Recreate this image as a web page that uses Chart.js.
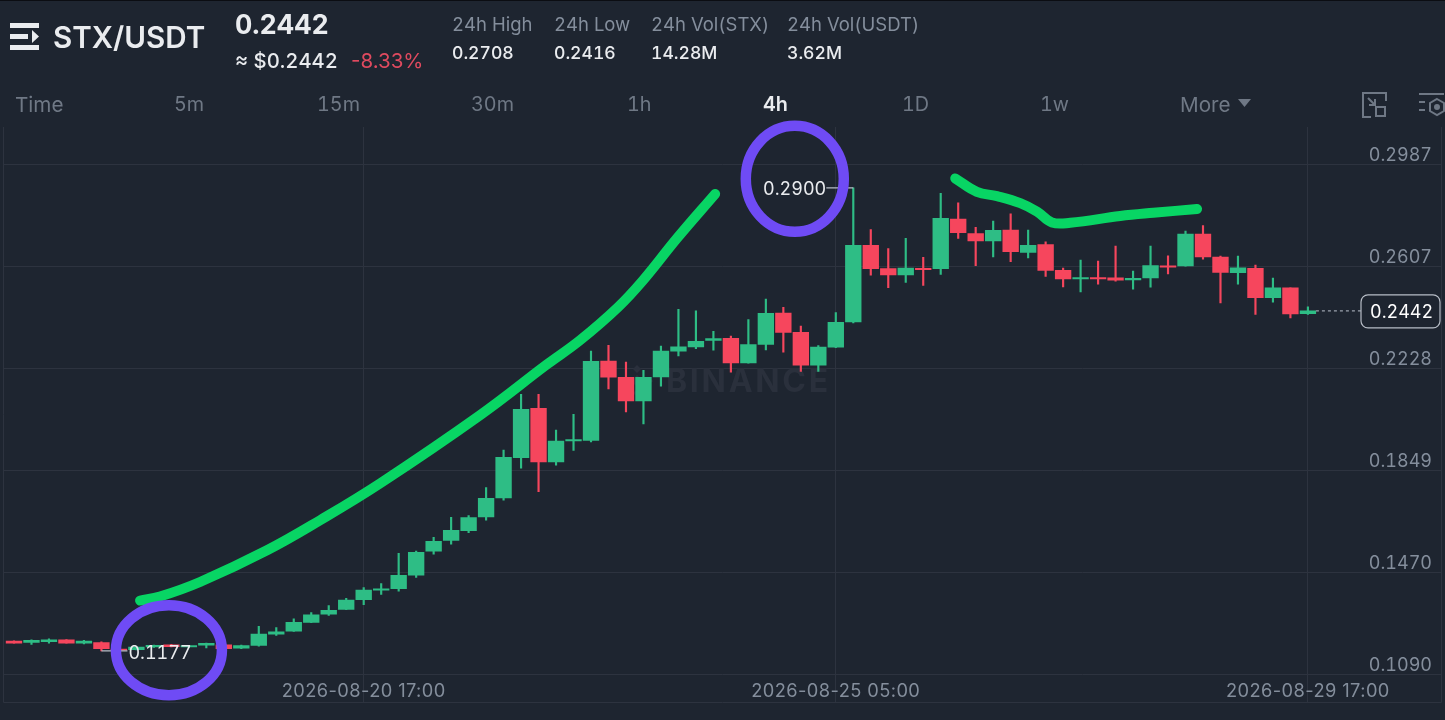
<!DOCTYPE html>
<html>
<head>
<meta charset="utf-8">
<script src="https://cdn.jsdelivr.net/npm/chart.js"></script>
<style>
    html, body { margin: 0; padding: 0; background: #1e2530; overflow: hidden; }
    body { width: 1445px; height: 720px; position: relative; font-family: Inter, sans-serif; color: #eaecef; font-variant-numeric: tabular-nums; }
    #topLine { position: absolute; left: 0; top: 0; width: 1445px; height: 1px; background: #0b0d12; }
    #kline { position: absolute; left: 0; top: 0; }
    .t { position: absolute; white-space: nowrap; line-height: 1; transform: translateY(-50%); }
    .tab { font-size: 19.8px; color: #6f7885; top: 105px; }
    .word { font-size: 20.7px; }
    .label { font-size: 18.5px; color: #848e9c; top: 23.5px; }
    .val { font-size: 17.6px; font-weight: 500; color: #eaecef; top: 52.5px; }
    .axis { position: absolute; white-space: nowrap; line-height: 1; font-size: 18px; color: #848e9c; }
    .time { font-size: 18.3px; letter-spacing: 0.4px; font-variant-numeric: normal; }
    svg { position: absolute; }
</style>
</head>
<body>
<div id="topLine"></div>
<canvas id="kline" width="1445" height="720"></canvas>

<svg style="left:10px;top:22px" width="30" height="30" viewBox="0 0 30 30" fill="#eaecef">
    <rect x="0" y="1" width="29" height="5"/>
    <rect x="0" y="12" width="18" height="5"/>
    <path d="M22 8 L29 14.5 L22 21 Z"/>
    <rect x="0" y="23" width="29" height="5"/>
</svg>
<div class="t" style="left:53px;top:38px;font-size:29.6px;font-weight:600;">STX/USDT</div>
<div class="t" style="left:235px;top:24px;font-size:26.8px;font-weight:700;">0.2442</div>
<div class="t" style="left:235px;top:61px;font-size:20.3px;font-weight:500;">≈ $0.2442</div>
<div class="t" style="left:351px;top:61px;font-size:20.5px;color:#e04a5f;font-variant-numeric:normal;">-8.33%</div>

<div class="t label" style="left:452px">24h High</div>
<div class="t val" style="left:452px">0.2708</div>
<div class="t label" style="left:554px">24h Low</div>
<div class="t val" style="left:554px">0.2416</div>
<div class="t label" style="left:651px">24h Vol(STX)</div>
<div class="t val" style="left:651px">14.28M</div>
<div class="t label" style="left:787px">24h Vol(USDT)</div>
<div class="t val" style="left:787px">3.62M</div>

<div class="t tab word" style="left:15px">Time</div>
<div class="t tab" style="left:174px">5m</div>
<div class="t tab" style="left:317px">15m</div>
<div class="t tab" style="left:471px">30m</div>
<div class="t tab" style="left:627px">1h</div>
<div class="t tab" style="left:763px;color:#eaecef;font-weight:600;">4h</div>
<div class="t tab" style="left:902px">1D</div>
<div class="t tab" style="left:1040px">1w</div>
<div class="t tab word" style="left:1180px">More</div>
<svg style="left:1238px;top:99px" width="13" height="9" viewBox="0 0 13 9" fill="#6f7885"><path d="M0 0 H13 L6.5 8 Z"/></svg>

<svg style="left:1361px;top:92px" width="26" height="26" viewBox="0 0 26 26" fill="none" stroke="#6f7885" stroke-width="2">
    <path d="M10 25 H2 V1 H25 V9"/>
    <rect x="15" y="15" width="9" height="9"/>
    <path d="M7 6 L14 13 M14 7 V13 H8"/>
</svg>
<svg style="left:1418px;top:92px" width="27" height="26" viewBox="0 0 27 26" fill="none" stroke="#6f7885" stroke-width="2">
    <path d="M1 2 H26 M1 10 H7 M1 18 H7"/>
    <path d="M19 7 L26 11 V19 L19 23 L12 19 V11 Z"/>
    <circle cx="19" cy="15" r="2" fill="#6f7885"/>
</svg>

<script>
// 4h candles, index 0 is the oldest, index 74 is 2026-08-29 17:00
const opens = [
    .1213,.1208,.1211,.1218,.1205,.1208,.1183,.1181,.1191,.1199,.1191,.1198,.1199,.1187,.1197,.1239,.1250,.1283,.1313,.1331,
    .1367,.1403,.1408,.1458,.1548,.1588,.1624,.1675,.1746,.1896,.2079,.1880,.1958,.1960,.2255,.2195,.2107,.2196,.2292,.2308,
    .2332,.2340,.2248,.2317,.2434,.2362,.2240,.2307,.2401,.2686,.2599,.2576,.2600,.2599,.2784,.2730,.2702,.2743,.2660,.2689,
    .2593,.2561,.2566,.2565,.2557,.2565,.2610,.2609,.2728,.2642,.2584,.2600,.2491,.2528,.2432];
const closes = [
    .1205,.1216,.1218,.1205,.1213,.1185,.1179,.1191,.1197,.1192,.1196,.1205,.1185,.1196,.1239,.1248,.1283,.1311,.1328,.1366,
    .1403,.1408,.1458,.1543,.1584,.1625,.1673,.1744,.1897,.2076,.1880,.1957,.1963,.2254,.2195,.2107,.2195,.2292,.2308,.2329,
    .2339,.2248,.2317,.2433,.2362,.2240,.2307,.2399,.2686,.2599,.2576,.2601,.2595,.2786,.2733,.2702,.2742,.2662,.2686,.2593,
    .2561,.2566,.2561,.2556,.2563,.2611,.2605,.2728,.2643,.2585,.2602,.2491,.2528,.2431,.2442];
const highs = [
    .1214,.1218,.1222,.1219,.1216,.1210,.1184,.1192,.1198,.1201,.1197,.1206,.1200,.1198,.1268,.1263,.1296,.1319,.1345,.1372,
    .1412,.1427,.1540,.1548,.1599,.1674,.1680,.1784,.1924,.2131,.2131,.1998,.2057,.2292,.2314,.2251,.2221,.2311,.2448,.2442,
    .2366,.2348,.2410,.2486,.2455,.2385,.2313,.2436,.2900,.2745,.2674,.2712,.2641,.2879,.2844,.2753,.2776,.2803,.2743,.2699,
    .2601,.2631,.2627,.2683,.2590,.2683,.2647,.2739,.2759,.2646,.2646,.2612,.2564,.2528,.2457];
const lows = [
    .1205,.1201,.1205,.1205,.1203,.1177,.1178,.1180,.1190,.1191,.1190,.1188,.1184,.1185,.1194,.1234,.1249,.1282,.1309,.1330,
    .1349,.1387,.1399,.1450,.1537,.1574,.1617,.1663,.1738,.1857,.1769,.1868,.1923,.1954,.2152,.2066,.2021,.2162,.2274,.2301,
    .2296,.2214,.2247,.2297,.2288,.2217,.2217,.2305,.2397,.2575,.2528,.2548,.2537,.2578,.2712,.2610,.2643,.2625,.2639,.2570,
    .2531,.2513,.2541,.2553,.2523,.2530,.2580,.2608,.2634,.2472,.2541,.2429,.2474,.2416,.2429];

const yTicks = [0.1090, 0.1470, 0.1849, 0.2228, 0.2607, 0.2987];
const xTickIndex = [20, 47, 74];
const xTickLabels = ["2026-08-20 17:00", "2026-08-25 05:00", "2026-08-29 17:00"];

// hand drawn green strokes on the picture, in candle index / price
const riseStrokeX = [7.21,8.35,10.64,14.47,17.51,20.94,26.66,30.49,32.38,34.55,35.98,37.93,40.10];
const riseStrokeY = [.1364,.1379,.1433,.1551,.1663,.1800,.2054,.2243,.2333,.2456,.2556,.2713,.2877];
const flatStrokeX = [53.83,55.07,56.22,57.55,58.52,59.36,60.41,63.27,65.16,67.66];
const flatStrokeY = [.2935,.2885,.2869,.2843,.2811,.2771,.2770,.2795,.2807,.2821];

const UP = "#2ebd85";
const DOWN = "#f6465d";
const GRID = "#2d333f";
const FONT = "Inter, sans-serif";

const candleColors = opens.map((o, i) => closes[i] >= o ? UP : DOWN);
const lastIndex = opens.length - 1;
const lowIndex = lows.indexOf(Math.min(...lows));
const highIndex = highs.indexOf(Math.max(...highs));

function zip(xs, ys) {
    return xs.map((x, i) => ({ x: x, y: ys[i] }));
}

// === WATERMARK + AXIS FRAME ===
const backdropPlugin = {
    id: "backdrop",
    beforeDatasetsDraw(chart) {
        const c = chart.ctx, a = chart.chartArea;
        c.save();
        c.strokeStyle = GRID;
        c.lineWidth = 1;
        c.beginPath();
        c.moveTo(a.left, a.top);
        c.lineTo(a.left, a.bottom);
        c.lineTo(a.right, a.bottom);
        c.lineTo(a.right, a.top);
        c.stroke();

        c.fillStyle = "#2a303c";
        c.font = "700 32px " + FONT;
        c.textAlign = "left";
        c.textBaseline = "middle";
        c.letterSpacing = "2.7px";
        c.fillText("BINANCE", 666, 382);
        c.letterSpacing = "0px";
        // logo, mostly hidden behind the candles
        [[637, 381, 6], [625, 381, 4], [649, 381, 4], [637, 369, 4], [637, 393, 4]].forEach(d => {
            c.beginPath();
            c.moveTo(d[0], d[1] - d[2]);
            c.lineTo(d[0] + d[2], d[1]);
            c.lineTo(d[0], d[1] + d[2]);
            c.lineTo(d[0] - d[2], d[1]);
            c.fill();
        });
        c.restore();
    }
};

// === HIGH / LOW LEADERS, LAST PRICE TAG, PURPLE CIRCLES ===
const overlayPlugin = {
    id: "overlay",
    afterDatasetsDraw(chart) {
        const c = chart.ctx;
        const x = chart.scales.x, y = chart.scales.y;
        c.save();

        c.strokeStyle = "#b7bdc6";
        c.lineWidth = 1.2;
        const lowX = x.getPixelForValue(lowIndex), lowY = y.getPixelForValue(lows[lowIndex]);
        const highX = x.getPixelForValue(highIndex), highY = y.getPixelForValue(highs[highIndex]);
        c.beginPath();
        c.moveTo(lowX, lowY);
        c.lineTo(lowX + 26, lowY);
        c.moveTo(highX, highY);
        c.lineTo(highX - 27, highY);
        c.stroke();

        // last price
        const lastX = x.getPixelForValue(lastIndex), lastY = y.getPixelForValue(closes[lastIndex]);
        c.setLineDash([3, 3]);
        c.strokeStyle = "#9aa1ac";
        c.beginPath();
        c.moveTo(lastX + 8, lastY);
        c.lineTo(1361, lastY);
        c.stroke();
        c.setLineDash([]);
        c.fillStyle = "#1e2530";
        c.strokeStyle = "#b7bdc6";
        c.beginPath();
        c.roundRect(1361, lastY - 16, 79, 33, 7);
        c.fill();
        c.stroke();

        // circles around the low and the high
        c.strokeStyle = "#6f4bf5";
        c.lineWidth = 10.5;
        c.beginPath();
        c.ellipse(lowX + 67.5, lowY - 0.5, 53, 45, 0, 0, Math.PI * 2);
        c.stroke();
        c.beginPath();
        c.ellipse(highX - 58.5, highY - 9, 49, 53, 0, 0, Math.PI * 2);
        c.stroke();
        c.restore();
    }
};

// === CHART ===
const chart = new Chart(document.getElementById("kline"), {
    type: "bar",
    data: {
        datasets: [
            {
                type: "line",
                data: zip(riseStrokeX, riseStrokeY),
                borderColor: "#08d564",
                borderWidth: 10,
                borderCapStyle: "round",
                borderJoinStyle: "round",
                pointRadius: 0,
                tension: 0.4,
                order: 1
            },
            {
                type: "line",
                data: zip(flatStrokeX, flatStrokeY),
                borderColor: "#08d564",
                borderWidth: 10,
                borderCapStyle: "round",
                borderJoinStyle: "round",
                pointRadius: 0,
                tension: 0.4,
                order: 1
            },
            {
                data: opens.map((o, i) => ({ x: i, y: [o, closes[i]] })),
                backgroundColor: candleColors,
                barThickness: 15.7,
                grouped: false,
                borderWidth: 0,
                order: 2
            },
            {
                data: opens.map((o, i) => ({ x: i, y: [lows[i], highs[i]] })),
                backgroundColor: candleColors,
                barThickness: 1.5,
                grouped: false,
                borderWidth: 0,
                order: 3
            }
        ]
    },
    options: {
        responsive: false,
        animation: false,
        events: [],
        layout: { padding: { left: 3.5, right: 3.5, top: 127, bottom: 17.5 } },
        plugins: {
            legend: { display: false },
            tooltip: { enabled: false }
        },
        scales: {
            x: {
                type: "linear",
                min: -0.6,
                max: 81.64,
                offset: false,
                grid: { color: GRID, offset: false, drawTicks: false },
                border: { display: false },
                afterBuildTicks(scale) { scale.ticks = xTickIndex.map(v => ({ value: v })); },
                afterFit(scale) { scale.height = 0; },
                ticks: { display: false }
            },
            y: {
                position: "right",
                min: 0.09846,
                max: 0.31263,
                grid: { color: GRID, drawTicks: false },
                border: { display: false },
                afterBuildTicks(scale) { scale.ticks = yTicks.map(v => ({ value: v })); },
                afterFit(scale) { scale.width = 0; },
                ticks: { display: false }
            }
        }
    },
    plugins: [backdropPlugin, overlayPlugin]
});

// === TEXT LABELS ===
// html text so the digits can be tabular, canvas text has no switch for that
function addLabel(text, x, y, anchor, color, extraClass) {
    const el = document.createElement("div");
    el.className = "axis" + (extraClass ? " " + extraClass : "");
    el.textContent = text;
    el.style.left = x + "px";
    el.style.top = y + "px";
    el.style.transform = "translate(" + anchor + ",-50%)";
    if (color) el.style.color = color;
    document.body.appendChild(el);
}

const sx = chart.scales.x, sy = chart.scales.y;
yTicks.forEach(v => addLabel(v.toFixed(4), 1432, sy.getPixelForValue(v) - 9.5, "-100%"));
xTickIndex.forEach((v, i) => addLabel(xTickLabels[i], sx.getPixelForValue(v), chart.chartArea.bottom - 13, "-50%", null, "time"));
addLabel(lows[lowIndex].toFixed(4), sx.getPixelForValue(lowIndex) + 27, sy.getPixelForValue(lows[lowIndex]) + 2, "0", "#eaecef");
addLabel(highs[highIndex].toFixed(4), sx.getPixelForValue(highIndex) - 27, sy.getPixelForValue(highs[highIndex]) + 1, "-100%", "#eaecef");
addLabel(closes[lastIndex].toFixed(4), 1370, sy.getPixelForValue(closes[lastIndex]) + 1, "0", "#ffffff");
</script>
</body>
</html>
